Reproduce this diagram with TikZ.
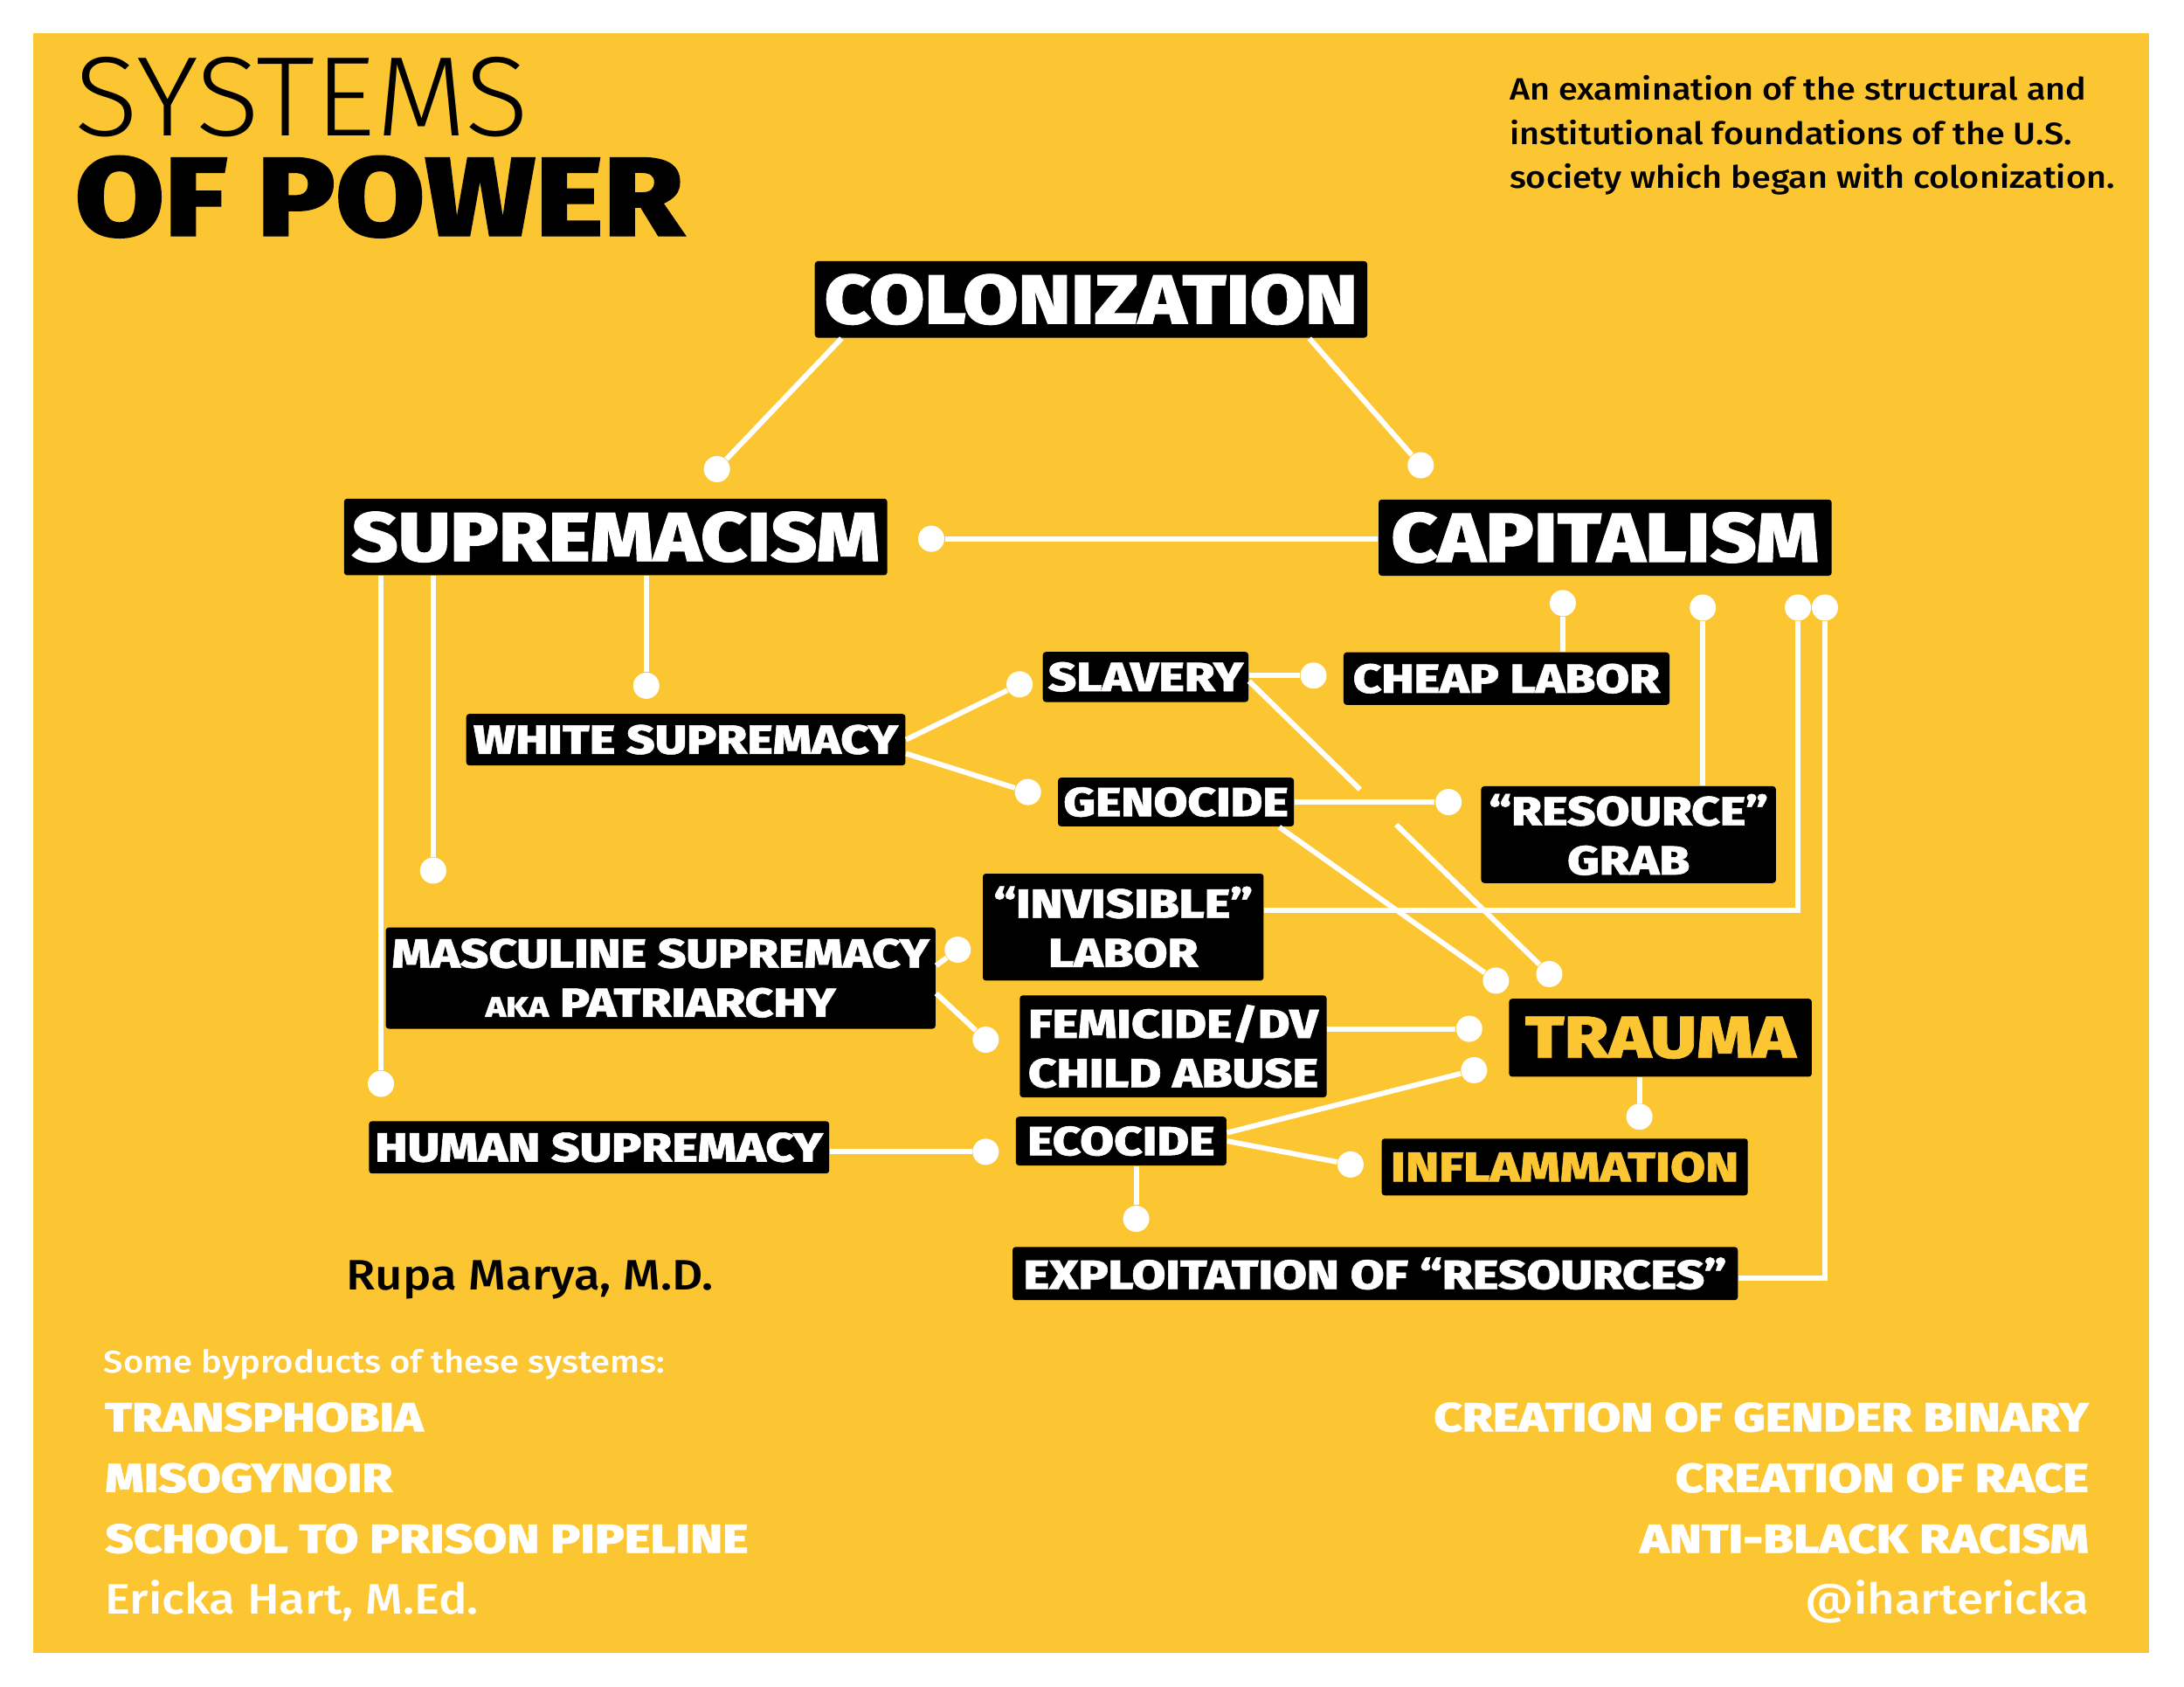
\documentclass[tikz,border=0pt]{standalone}
\usepackage{fontspec}
\setmainfont{Fira Sans}
\newfontfamily\heavyfont{Fira Sans ExtraBold}[FakeStretch=1.21, FakeBold=1.2]
\newfontfamily\bigfont{Fira Sans ExtraBold}[FakeStretch=1.155, FakeBold=1.2]
\newfontfamily\lightfont{Fira Sans Light}[FakeStretch=1.045]
\newfontfamily\medfont{Fira Sans Medium}[FakeStretch=1.12]
\usetikzlibrary{calc, positioning}
\definecolor{bgyellow}{RGB}{252,197,50}
\def\pu{0.16mm}
\tikzset{
  blk/.style={fill=black, rounded corners=1pt, inner sep=0pt, text=white, align=center,
    font=\heavyfont\fontsize{13.3}{16.1}\selectfont},
  bigblk/.style={blk, font=\bigfont\fontsize{22.7}{26}\selectfont},
  wire/.style={draw=white, line width=1.7pt},
  dot/.style={circle, fill=white, inner sep=0pt, minimum size=18.8*\pu},
  plain/.style={inner sep=0pt, anchor=base west},
  listtxt/.style={plain, text=white, font=\heavyfont\fontsize{13.3}{15}\selectfont}
}
\begin{document}
\begin{tikzpicture}[x=0.16mm, y=-0.16mm]
    \useasboundingbox (0,0) rectangle (1568,1211);
    \fill[white] (0,0) rectangle (1568,1211);
    \fill[bgyellow] (24,24) rectangle (1543,1186.5);

    % Title
    \node[plain, font=\lightfont\fontsize{37}{40}\selectfont] (ttl1) at (53.3,97.6) {SYSTEMS};
    \node[plain, font=\bigfont\fontsize{36.7}{40}\selectfont] (ttl2) at (53.3,169.3) {OF POWER};
    \foreach \t [count=\i] in {An examination of the structural and, institutional foundations of the U.S., society which began with colonization.}
    \node[plain, font=\medfont\fontsize{10.1}{12}\selectfont] (sub\i) at ({1083.4},{72.1+31.4*(\i-1)}) {\t};

    % Systems
    \node[bigblk, minimum width=396.6*\pu, minimum height=55*\pu] (colon) at (783.3,215) {COLONIZATION};
    \node[bigblk, minimum width=390*\pu, minimum height=55*\pu] (supre) at (442,385.5) {SUPREMACISM};
    \node[bigblk, minimum width=325.3*\pu, minimum height=54.7*\pu] (capit) at (1152.4,386) {CAPITALISM};

    % Branches
    \node[blk, minimum width=315.3*\pu, minimum height=37*\pu] (whites) at (492.4,531) {WHITE SUPREMACY};
    \node[blk, minimum width=147.6*\pu, minimum height=36*\pu] (slav) at (822.5,486) {SLAVERY};
    \node[blk, minimum width=234*\pu, minimum height=37.7*\pu] (cheap) at (1081.6,487.2) {CHEAP LABOR};
    \node[blk, minimum width=169.4*\pu, minimum height=35*\pu] (geno) at (844.3,575.8) {GENOCIDE};
    \node[blk, minimum width=211.6*\pu, minimum height=69.5*\pu] (grab) at (1169.2,599.2) {“RESOURCE”\\GRAB};
    \node[blk, minimum width=201.6*\pu, minimum height=76.8*\pu] (invis) at (806.4,665.6) {“INVISIBLE”\\LABOR};
    \node[blk, minimum width=394.7*\pu, minimum height=72.7*\pu] (masc) at (474.3,702.2)
      {MASCULINE SUPREMACY\\{\fontsize{9.3}{16.1}\selectfont AKA} PATRIARCHY};
    \node[blk, minimum width=220.3*\pu, minimum height=73.2*\pu] (femi) at (842.3,751.2) {FEMICIDE/DV\\CHILD ABUSE};
    \node[blk, text=bgyellow, font=\heavyfont\fontsize{19.3}{22}\selectfont,
      minimum width=217.3*\pu, minimum height=56*\pu] (trauma) at (1192.1,745) {TRAUMA};
    \node[blk, minimum width=330.5*\pu, minimum height=37.5*\pu] (human) at (430.1,823.7) {HUMAN SUPREMACY};
    \node[blk, minimum width=151.2*\pu, minimum height=35*\pu] (eco) at (804.9,819.2) {ECOCIDE};
    \node[blk, text=bgyellow, font=\heavyfont\fontsize{13.7}{16}\selectfont,
      minimum width=262.9*\pu, minimum height=40.8*\pu] (infl) at (1123.4,837.8) {INFLAMMATION};
    \node[blk, minimum width=520.7*\pu, minimum height=38.2*\pu] (explo) at (987.3,914.3) {EXPLOITATION OF “RESOURCES”};

    % Dots
    \foreach \n/\x/\y in {dSup/514.7/336.8, dCap/1020/334, dHor/668.6/386.8, dWhite/464/492.3,
        dMasc/311/625, dHuman/273.5/778.1, dCheapT/1122/433, dGrabT/1222.5/436.2,
        dInvT/1290.8/436.2, dExpT/1310.2/436.2, dSlav/732/491.3, dGeno/738/568.6,
        dCheapL/943/485, dGrabL/1040/575.8, dTrA/1074/704, dTrB/1112.3/699.3,
        dInvL/687.6/681.8, dFemL/707.7/746.4, dTrC/1054.8/738.6, dTrD/1058.3/768.3,
        dInfl/1177/801.7, dInflL/969.6/836, dEco/707.7/826.9, dExp/815.7/875}
    \node[dot] (\n) at (\x,\y) {};

    % Links
    \draw[wire] ([xshift=19.6*\pu]colon.south west) -- (dSup);
    \draw[wire] ([xshift=-42*\pu]colon.south east) -- (dCap);
    \draw[wire] (dHor) -- (dHor -| capit.west);
    \draw[wire] (dHuman |- supre.south) -- (dHuman);
    \draw[wire] (dMasc |- supre.south) -- (dMasc);
    \draw[wire] (dWhite |- supre.south) -- (dWhite);
    \draw[wire] (whites.east) -- (dSlav);
    \draw[wire] ([yshift=-10*\pu]whites.east) -- (dGeno);
    \draw[wire] (slav.east |- dCheapL) -- (dCheapL);
    \draw[wire] (dCheapT) -- (dCheapT |- cheap.north);
    \draw[wire] (dGrabT) -- (dGrabT |- grab.north);
    \draw[wire] (dInvT) |- ([yshift=12.3*\pu]invis.east);
    \draw[wire] (dExpT) |- ([yshift=-3*\pu]explo.east);
    \draw[wire] (geno.east |- dGrabL) -- (dGrabL);
    \coordinate (slavOut) at ([yshift=-3*\pu]slav.east);
    \draw[wire] (slavOut) -- ($(slavOut)!0.37!(dTrB)$);
    \draw[wire] ($(slavOut)!0.49!(dTrB)$) -- (dTrB);
    \draw[wire] ([xshift=-11*\pu]geno.south east) -- (dTrA);
    \draw[wire] ([yshift=9*\pu]masc.east) -- (dInvL);
    \draw[wire] ([yshift=-11*\pu]masc.east) -- (dFemL);
    \draw[wire] (femi.east |- dTrC) -- (dTrC);
    \draw[wire] ([yshift=6*\pu]eco.east) -- (dTrD);
    \draw[wire] (eco.east) -- (dInflL);
    \draw[wire] (trauma.south -| dInfl) -- (dInfl);
    \draw[wire] (human.east |- dEco) -- (dEco);
    \draw[wire] (eco.south -| dExp) -- (dExp);

    % Credits
    \node[plain, font=\medfont\fontsize{13.9}{15}\selectfont] (rupa) at (248.3,926.2) {Rupa Marya, M.D.};
    \node[plain, text=white, font=\medfont\fontsize{10.2}{12}\selectfont] (byprod) at (74,985.7) {Some byproducts of these systems:};
    \foreach \t [count=\i] in {TRANSPHOBIA, MISOGYNOIR, SCHOOL TO PRISON PIPELINE}
    \node[listtxt] (left\i) at ({75},{1027.6+43.6*(\i-1)}) {\t};
    \foreach \t [count=\i] in {CREATION OF GENDER BINARY, CREATION OF RACE, ANTI-BLACK RACISM}
    \node[listtxt, anchor=base east] (right\i) at ({1500},{1027.6+43.6*(\i-1)}) {\t};
    \node[plain, text=white, font=\medfont\fontsize{13.9}{15}\selectfont] (ericka) at (75,1158.6) {Ericka Hart, M.Ed.};
    \node[plain, anchor=base east, text=white, font=\medfont\fontsize{13.9}{15}\selectfont] (handle) at (1500,1158.6) {@ihartericka};
\end{tikzpicture}
\end{document}
